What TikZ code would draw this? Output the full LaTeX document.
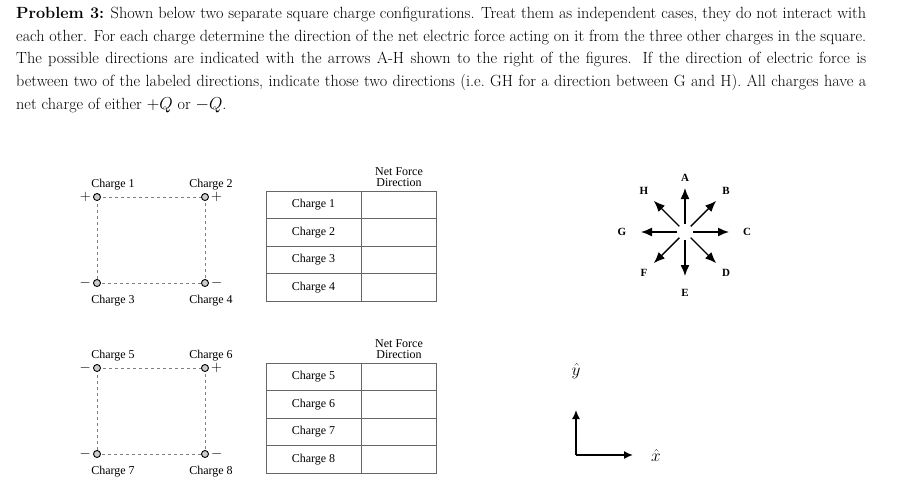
\documentclass[tikz,border=0pt]{standalone}
\usepackage{fontspec}
\usetikzlibrary{positioning,calc,arrows.meta}
\newfontfamily\tms{Liberation Serif}
\newfontfamily\sns{DejaVu Sans}
\begin{document}
\begin{tikzpicture}[x=1pt,y=-1pt,
 lab/.style={font=\tms\fontsize{12}{13}\selectfont, inner sep=0},
 chg/.style={circle,draw,fill=gray!40,minimum size=7,inner sep=0,line width=0.9},
 sgn/.style={font=\sns\bfseries\fontsize{14}{14}\selectfont,inner sep=0},
 edge/.style={gray,dash pattern=on 3pt off 3pt},
 cmp/.style={-{Latex[length=11pt,width=9pt]},line width=1.4pt},
 cl/.style={font=\tms\bfseries\fontsize{11}{11}\selectfont,inner sep=0},
 cell/.style={draw,gray!80!black,line width=0.6pt}]
\useasboundingbox (0,0) rectangle (898,499);
\node[anchor=north west,text width=850pt,inner sep=0,align=justify,font=\fontsize{16.2}{22.7}\selectfont] (txt) at (16,7)
{\textbf{Problem 3:} Shown below two separate square charge configurations. Treat them as independent cases, they do not interact with each other. For each charge determine the direction of the net electric force acting on it from the three other charges in the square. The possible directions are indicated with the arrows A-H shown to the right of the figures. If the direction of electric force is between two of the labeled directions, indicate those two directions (i.e.\ GH for a direction between G and H). All charges have a net charge of either $+Q$ or $-Q$.};
\foreach \o/\a/\b/\c/\d/\sa/\sb/\sc/\sd in {0/1/2/3/4/+/+/-/-, 171/5/6/7/8/-/+/-/-}{
 \begin{scope}[yshift=-\o pt]
 \coordinate (c\a) at (97,197); \coordinate (c\b) at (205,197);
 \coordinate (c\c) at (97,283); \coordinate (c\d) at (205,283);
 \draw[edge] (c\a)--(c\b)--(c\d)--(c\c)--cycle;
 \foreach \n in {\a,\b,\c,\d} \node[chg] (q\n) at (c\n) {};
 \node[sgn,left=2pt of q\a] (s\a) {$\mathbf{\sa}$};
 \node[sgn,right=2pt of q\b] (s\b) {$\mathbf{\sb}$};
 \node[sgn,left=2pt of q\c] (s\c) {$\mathbf{\sc}$};
 \node[sgn,right=2pt of q\d] (s\d) {$\mathbf{\sd}$};
 \node[lab] (l\a) at (113,185) {Charge \a};
 \node[lab] (l\b) at (211,185) {Charge \b};
 \node[lab] (l\c) at (113,301) {Charge \c};
 \node[lab] (l\d) at (211,301) {Charge \d};
 \end{scope}}
\foreach \o/\k in {0/1,172/5}{
 \begin{scope}[yshift=-\o pt]
 \node[lab,align=center,font=\tms\fontsize{12}{11}\selectfont] (h\k) at (399,177) {Net Force\\Direction};
 \foreach \i in {0,1,2,3}{
  \draw[cell] (266,{191+27.5*\i}) rectangle (361,{191+27.5*(\i+1)});
  \draw[cell] (361,{191+27.5*\i}) rectangle (436,{191+27.5*(\i+1)});
  \pgfmathtruncatemacro{\m}{\k+\i}
  \node[lab] (t\m) at (313.5,{205+27.5*\i}) {Charge \m};}
 \end{scope}}
\coordinate (o) at (685,232);
\foreach \ang/\L/\r in {90/A/54,45/B/58,0/C/62,-45/D/58,-90/E/61,-135/F/58,180/G/63,135/H/58}{
 \draw[cmp] ($(o)+(\ang:8pt)$) -- ($(o)+(\ang:44pt)$);
 \node[cl] (d\L) at ($(o)+(\ang:\r pt)$) {\L};
}
\coordinate (ax) at (576,455);
\coordinate (ay) at (576,410);
\coordinate (axx) at (633,455);
\draw[line width=1.6pt,-{Latex[length=9pt,width=8pt]}] (ax) -- (ay);
\draw[line width=1.6pt,-{Latex[length=9pt,width=8pt]}] (ax) -- (axx);
\node[font=\fontsize{17}{17}\selectfont] (yh) at (576,371) {$\hat{y}$};
\node[font=\fontsize{17}{17}\selectfont] (xh) at (656,455) {$\hat{x}$};
\end{tikzpicture}
\end{document}
